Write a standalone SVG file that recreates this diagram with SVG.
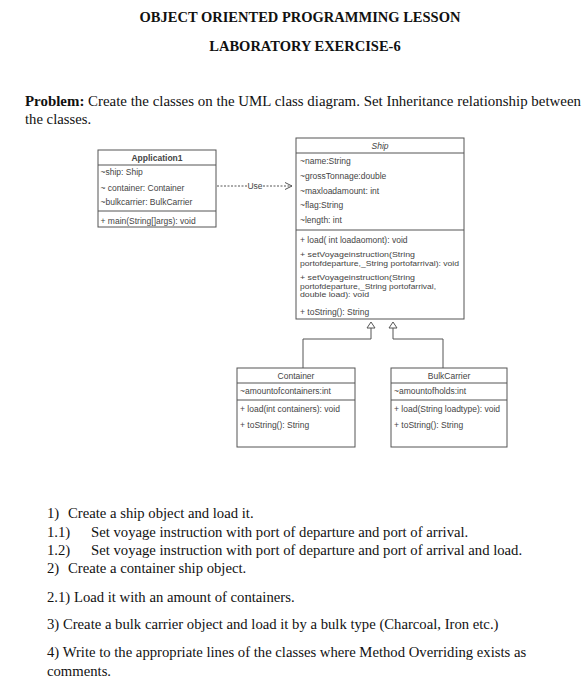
<svg xmlns="http://www.w3.org/2000/svg" width="586" height="700" viewBox="0 0 586 700">
<style>
.doc{font-family:"Liberation Serif","Times New Roman",serif;fill:#111;font-size:14.7px}
.title{font-weight:bold;font-size:14.5px}
.u{font-family:"Liberation Sans",Arial,sans-serif;font-size:8.5px;fill:#444}
.w{font-size:7.6px}
.box{fill:#fff;stroke:#555;stroke-width:1}
.ln{stroke:#555;stroke-width:1;fill:none}
.conn{stroke:#555;stroke-width:1;fill:none}
</style>
<rect width="586" height="700" fill="#fff"/>
<text class="doc title" x="300" y="22" text-anchor="middle">OBJECT ORIENTED PROGRAMMING LESSON</text>
<text class="doc title" x="305" y="51" text-anchor="middle">LABORATORY EXERCISE-6</text>
<text class="doc" x="25" y="106" font-size="15" textLength="556" lengthAdjust="spacingAndGlyphs"><tspan font-weight="bold">Problem:</tspan>  Create the classes on the UML class diagram. Set Inheritance relationship between</text>
<text class="doc" x="25" y="124" font-size="15">the classes.</text>

<g id="Application1">
<rect class="box" x="98" y="150" width="118" height="77"/>
<line class="ln" x1="98" y1="165" x2="216" y2="165"/>
<line class="ln" x1="98" y1="211" x2="216" y2="211"/>
<text class="u" x="157" y="160.5" text-anchor="middle" font-weight="bold">Application1</text>
<text class="u" x="100.5" y="175">~ship: Ship</text>
<text class="u" x="100.5" y="190.5">~ container: Container</text>
<text class="u" x="100.5" y="205">~bulkcarrier: BulkCarrier</text>
<text class="u" x="100.5" y="223.5">+ main(String[]args): void</text>
</g>

<g id="Ship">
<rect class="box" x="296" y="138" width="168" height="181"/>
<line class="ln" x1="296" y1="153" x2="464" y2="153"/>
<line class="ln" x1="296" y1="230" x2="464" y2="230"/>
<text class="u" x="380" y="148.5" text-anchor="middle" font-style="italic">Ship</text>
<text class="u" x="300" y="163.5">~name:String</text>
<text class="u" x="300" y="179">~grossTonnage:double</text>
<text class="u" x="300" y="193.5">~maxloadamount: int</text>
<text class="u" x="300" y="208">~flag:String</text>
<text class="u" x="300" y="223">~length: int</text>
<text class="u" x="300" y="243">+ load( int loadaomont): void</text>
<text class="u w" x="300" y="257" textLength="115" lengthAdjust="spacingAndGlyphs">+ setVoyageinstruction(String</text>
<text class="u w" x="300" y="265.5" textLength="159" lengthAdjust="spacingAndGlyphs">portofdeparture,_String portofarrival): void</text>
<text class="u w" x="300" y="280" textLength="115" lengthAdjust="spacingAndGlyphs">+ setVoyageinstruction(String</text>
<text class="u w" x="300" y="288.5" textLength="136" lengthAdjust="spacingAndGlyphs">portofdeparture,_String portofarrival,</text>
<text class="u w" x="300" y="297" textLength="69" lengthAdjust="spacingAndGlyphs">double load): void</text>
<text class="u" x="300" y="315">+ toString(): String</text>
</g>

<g id="Container">
<rect class="box" x="237" y="368" width="118" height="79"/>
<line class="ln" x1="237" y1="383" x2="355" y2="383"/>
<line class="ln" x1="237" y1="400" x2="355" y2="400"/>
<text class="u" x="296" y="378.5" text-anchor="middle">Container</text>
<text class="u" x="240" y="393.5">~amountofcontainers:int</text>
<text class="u" x="240" y="412">+ load(int containers): void</text>
<text class="u" x="240" y="428">+ toString(): String</text>
</g>

<g id="BulkCarrier">
<rect class="box" x="391" y="368" width="116" height="79"/>
<line class="ln" x1="391" y1="383" x2="507" y2="383"/>
<line class="ln" x1="391" y1="400" x2="507" y2="400"/>
<text class="u" x="449" y="378.5" text-anchor="middle">BulkCarrier</text>
<text class="u" x="394" y="393.5">~amountofholds:int</text>
<text class="u" x="394" y="412">+ load(String loadtype): void</text>
<text class="u" x="394" y="428">+ toString(): String</text>
</g>

<g id="connectors">
<line class="conn" x1="217" y1="186" x2="247" y2="186" stroke-dasharray="2,1.5"/>
<text class="u" x="255" y="188.5" text-anchor="middle" font-size="7">Use</text>
<line class="conn" x1="263" y1="186" x2="292" y2="186" stroke-dasharray="2,1.5"/>
<polyline class="conn" points="285,182.5 292,186 285,189.5"/>
<polyline class="conn" points="371,328 371,339 303,339 303,368"/>
<polygon class="box" points="371,322 367,328 375,328"/>
<polyline class="conn" points="393,328 393,339 443,339 443,368"/>
<polygon class="box" points="393,322 389,328 397,328"/>
</g>

<text class="doc" x="47" y="518">1)</text><text class="doc" x="68" y="518">Create a ship object and load it.</text>
<text class="doc" x="47" y="537">1.1)</text><text class="doc" x="91" y="537">Set voyage instruction with port of departure and port of arrival.</text>
<text class="doc" x="47" y="555">1.2)</text><text class="doc" x="91" y="555">Set voyage instruction with port of departure and port of arrival and load.</text>
<text class="doc" x="47" y="573">2)</text><text class="doc" x="68" y="573">Create a container ship object.</text>
<text class="doc" x="47" y="602">2.1) Load it with an amount of containers.</text>
<text class="doc" x="47" y="629">3) Create a bulk carrier object and load it by a bulk type (Charcoal, Iron etc.)</text>
<text class="doc" x="47" y="657">4) Write to the appropriate lines of the classes where Method Overriding exists as</text>
<text class="doc" x="47" y="676">comments.</text>
</svg>
